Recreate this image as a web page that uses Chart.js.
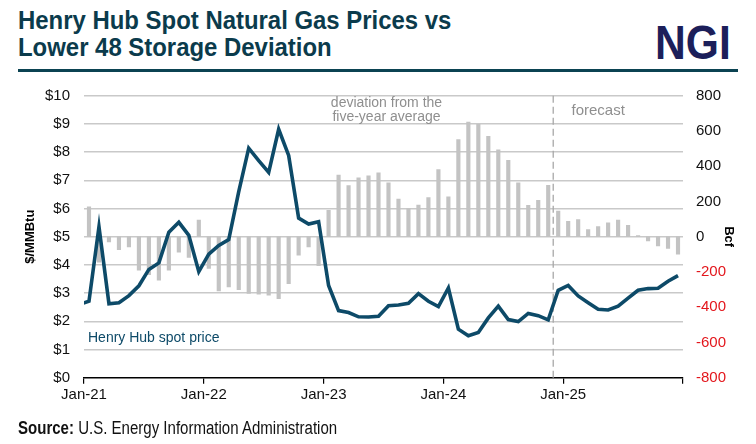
<!DOCTYPE html>
<html>
<head>
<meta charset="utf-8">
<script src="https://cdn.jsdelivr.net/npm/chart.js@4.4.1/dist/chart.umd.min.js"></script>
<style>
  html, body { margin: 0; padding: 0; background: #fff; }
  #wrap { position: relative; width: 756px; height: 444px; overflow: hidden; background: #fff; }
  .narrow { font-family: "Liberation Sans Narrow", "Arial Narrow", "Liberation Sans", Arial, sans-serif; transform-origin: 0 0; white-space: nowrap; }
  #title { position: absolute; left: 18px; top: 7px; font-weight: bold; font-size: 26px; line-height: 27px; color: #0b3b4c; transform: scaleX(0.92); }
  #logo { position: absolute; left: 655px; top: 17px; font-weight: bold; font-size: 49px; line-height: 50px; color: #1c1f5a; transform: scaleX(0.87); }
  #rule { position: absolute; left: 18px; top: 69px; width: 720px; height: 3px; background: #0b4352; }
  #source { position: absolute; left: 18px; top: 418px; font-size: 18px; color: #111; transform: scaleX(0.835); }
  #source b { font-weight: bold; }
  #chart { position: absolute; left: 0; top: 0; }
</style>
</head>
<body>
<div id="wrap">
  <div id="title" class="narrow">Henry Hub Spot Natural Gas Prices vs<br>Lower 48 Storage Deviation</div>
  <div id="logo" class="narrow">NGI</div>
  <div id="rule"></div>
  <canvas id="chart" width="756" height="444"></canvas>
  <div id="source" class="narrow"><b>Source:</b> U.S. Energy Information Administration</div>
</div>
<script>
// ---- data (monthly, Dec-20 .. Dec-25) ----
const months = [
  'Dec-20',
  'Jan-21','Feb-21','Mar-21','Apr-21','May-21','Jun-21','Jul-21','Aug-21','Sep-21','Oct-21','Nov-21','Dec-21',
  'Jan-22','Feb-22','Mar-22','Apr-22','May-22','Jun-22','Jul-22','Aug-22','Sep-22','Oct-22','Nov-22','Dec-22',
  'Jan-23','Feb-23','Mar-23','Apr-23','May-23','Jun-23','Jul-23','Aug-23','Sep-23','Oct-23','Nov-23','Dec-23',
  'Jan-24','Feb-24','Mar-24','Apr-24','May-24','Jun-24','Jul-24','Aug-24','Sep-24','Oct-24','Nov-24','Dec-24',
  'Jan-25','Feb-25','Mar-25','Apr-25','May-25','Jun-25','Jul-25','Aug-25','Sep-25','Oct-25','Nov-25','Dec-25'
];
// Henry Hub spot price, $/MMBtu
const henryHub = [
  2.59,
  2.71, 5.35, 2.62, 2.66, 2.91, 3.26, 3.84, 4.07, 5.16, 5.51, 5.05, 3.76,
  4.38, 4.69, 4.90, 6.60, 8.14, 7.70, 7.28, 8.81, 7.88, 5.66, 5.45, 5.53,
  3.27, 2.38, 2.31, 2.16, 2.15, 2.18, 2.55, 2.58, 2.64, 2.98, 2.71, 2.52,
  3.18, 1.72, 1.49, 1.60, 2.12, 2.54, 2.06, 1.99, 2.28, 2.20, 2.05, 3.10,
  3.27, 2.90, 2.66, 2.43, 2.40, 2.54, 2.82, 3.10, 3.16, 3.17, 3.42, 3.62
];
// Lower 48 storage deviation from five-year average, Bcf
const storageDev = [
  null,
  169, -145, -29, -73, -58, -190, -215, -247, -190, -88, -117, 94,
  -180, -307, -285, -300, -322, -326, -332, -351, -266, -105, -58, -165,
  150, 349, 290, 334, 345, 362, 305, 213, 160, 179, 222, 381,
  226, 551, 650, 637, 570, 493, 434, 305, 178, 207, 292, 145,
  87, 97, 41, 57, 79, 94, 65, 6, -24, -52, -66, -99
];
const xTickLabels = ['Jan-21', 'Jan-22', 'Jan-23', 'Jan-24', 'Jan-25', ''];
const xTickMonths = ['Jan-21', 'Jan-22', 'Jan-23', 'Jan-24', 'Jan-25', 'Jan-26'];
const forecastStart = 'Dec-24';
const leftTicks = ['$0','$1','$2','$3','$4','$5','$6','$7','$8','$9','$10'];

// month label -> x position (Jan-21 = 0, centred in month)
const monthPos = m => months.indexOf(m) - 1;
const boundaryPos = m => (m === 'Jan-26' ? 60 : monthPos(m)) - 0.5;

const linePts = henryHub.map((v, i) => ({ x: monthPos(months[i]), y: v }));
const barPts = storageDev.map((v, i) => ({ x: monthPos(months[i]), y: v })).filter(p => p.y !== null);

const FONT = '"Liberation Sans", Arial, sans-serif';
Chart.defaults.font.family = FONT;

const annot = {
  id: 'annot',
  beforeDatasetsDraw(chart) {
    const { ctx, chartArea, scales } = chart;
    const x = scales.x.getPixelForValue(monthPos(forecastStart) - 0.5);
    ctx.save();
    ctx.strokeStyle = '#a8a8a8';
    ctx.lineWidth = 1.3;
    ctx.setLineDash([7, 4]);
    ctx.beginPath();
    ctx.moveTo(x, chartArea.top);
    ctx.lineTo(x, chartArea.bottom);
    ctx.stroke();
    ctx.restore();
  },
  afterDatasetsDraw(chart) {
    const { ctx, scales } = chart;
    const xs = scales.x, yl = scales.yL;
    ctx.save();
    ctx.textBaseline = 'middle';
    ctx.fillStyle = '#8f8f8f';
    ctx.font = '14px ' + FONT;
    ctx.textAlign = 'center';
    ctx.fillText('deviation from the', xs.getPixelForValue(29.8), yl.getPixelForValue(9.75));
    ctx.fillText('five-year average', xs.getPixelForValue(29.8), yl.getPixelForValue(9.25));
    ctx.font = '15px ' + FONT;
    ctx.fillText('forecast', xs.getPixelForValue(51.0), yl.getPixelForValue(9.47));
    ctx.textAlign = 'left';
    ctx.fillStyle = '#0d4a68';
    ctx.font = '14px ' + FONT;
    ctx.fillText('Henry Hub spot price', xs.getPixelForValue(-0.1), yl.getPixelForValue(1.41));
    ctx.restore();
  }
};

new Chart(document.getElementById('chart'), {
  type: 'bar',
  data: {
    datasets: [
      {
        type: 'line',
        label: 'Henry Hub spot price',
        data: linePts,
        yAxisID: 'yL',
        borderColor: '#0d4a68',
        borderWidth: 3.6,
        pointRadius: 0,
        tension: 0,
        borderJoinStyle: 'miter',
        order: 0
      },
      {
        type: 'bar',
        label: 'deviation from the five-year average',
        data: barPts,
        yAxisID: 'yR',
        backgroundColor: '#c3c3c3',
        barThickness: 3.5,
        order: 1
      }
    ]
  },
  options: {
    responsive: false,
    animation: false,
    events: [],
    layout: { padding: { top: 95.7, left: 0, right: 0, bottom: 0 } },
    plugins: { legend: { display: false }, tooltip: { enabled: false }, title: { display: false } },
    scales: {
      x: {
        type: 'linear',
        offset: false,
        min: -0.5,
        max: 59.5,
        afterBuildTicks: s => { s.ticks = xTickMonths.map(m => ({ value: boundaryPos(m) })); },
        afterFit: s => { s.height = 66.3; },
        ticks: {
          autoSkip: false, maxRotation: 0, padding: 2,
          color: '#111', font: { size: 15 },
          callback: (v, i) => xTickLabels[i]
        },
        grid: { display: true, offset: false, drawOnChartArea: false, drawTicks: true, tickLength: 6, color: '#000', lineWidth: 1.2 },
        border: { display: true, color: '#000', width: 1.6 }
      },
      yL: {
        type: 'linear',
        position: 'left',
        min: 0, max: 10,
        afterFit: s => { s.width = 84; },
        ticks: { stepSize: 1, padding: 14, color: '#111', font: { size: 15 },
          callback: (v) => leftTicks[Math.round(v)] },
        grid: { drawTicks: false, lineWidth: 1.5,
          color: c => (c.tick && c.tick.value === 0 ? 'rgba(0,0,0,0)' : '#c9c9c9') },
        border: { display: false },
        title: { display: true, text: '$/MMBtu', color: '#000', font: { size: 13, weight: 'bold' }, padding: { top: 23, bottom: 0 } }
      },
      yR: {
        type: 'linear',
        position: 'right',
        min: -800, max: 800,
        afterFit: s => { s.width = 73; },
        ticks: { stepSize: 200, padding: 13, font: { size: 15 },
          color: c => (c.tick && c.tick.value < 0 ? '#e3161c' : '#111') },
        grid: { display: false, drawTicks: false },
        border: { display: false },
        title: { display: true, text: 'Bcf', color: '#000', font: { size: 13, weight: 'bold' }, padding: { top: 20, bottom: 0 } }
      }
    }
  },
  plugins: [annot]
});
</script>
</body>
</html>
